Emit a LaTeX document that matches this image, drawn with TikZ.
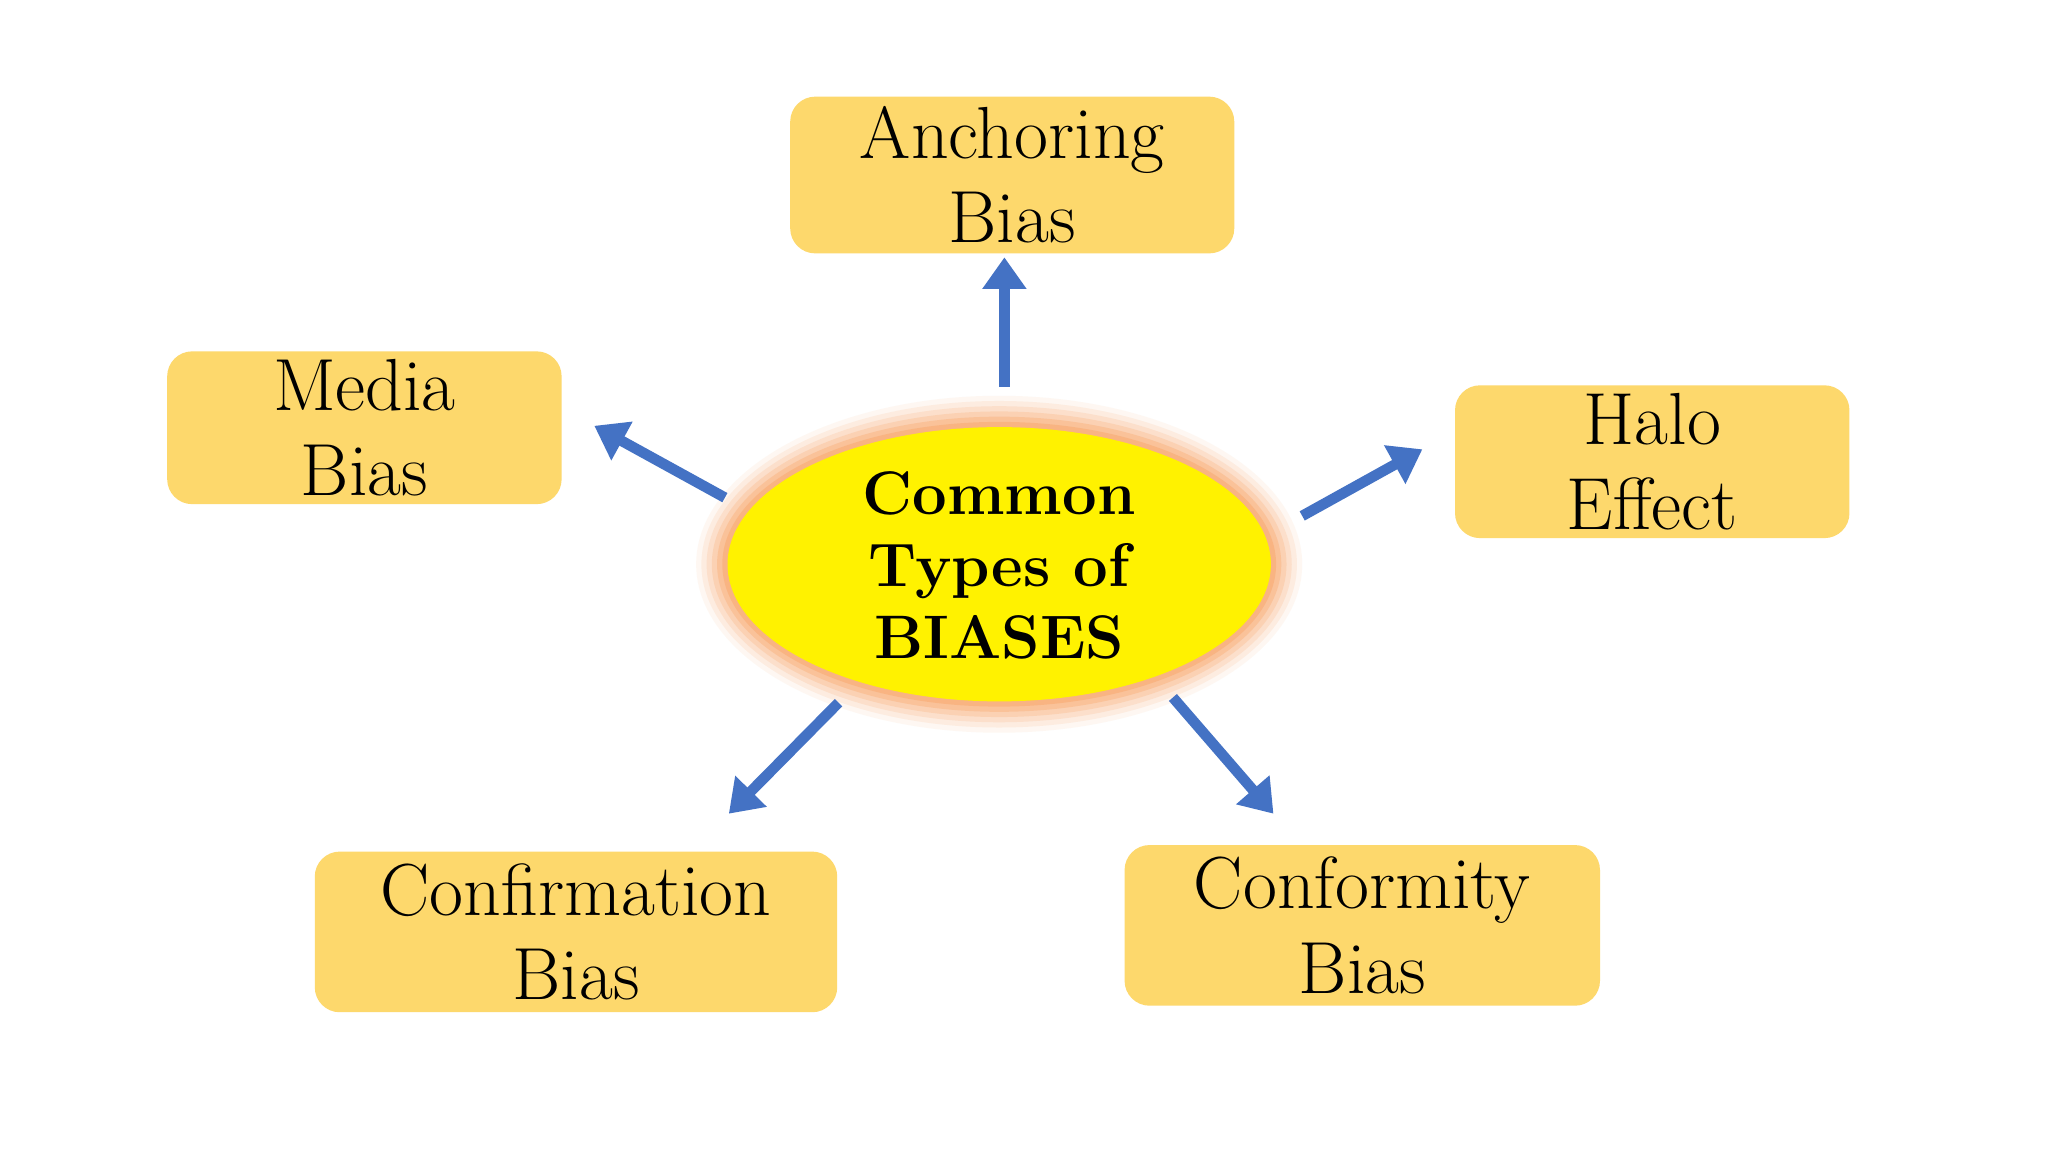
\documentclass[tikz,border=0pt]{standalone}
\usetikzlibrary{arrows.meta,shapes.geometric}
\definecolor{boxfill}{HTML}{FDD86C}
\definecolor{arrowblue}{HTML}{4472C4}
\definecolor{glow}{HTML}{F8A060}
\begin{document}
\begin{tikzpicture}[x=0.013061cm,y=-0.013061cm,
  biasbox/.style={draw=none,fill=boxfill,rounded corners=0.25cm,align=center,font=\fontsize{21}{24}\selectfont,inner sep=0pt},
  arr/.style={draw=arrowblue,line width=3pt,-{Triangle[length=9pt,width=12pt]}}]
\fill[white] (0,0) rectangle (1568,882);
\path[use as bounding box] (0,0) rectangle (1568,882);
\node[biasbox,minimum width=340*0.013061cm,minimum height=120*0.013061cm] (anch) at (775,134) {Anchoring\\Bias};
\node[biasbox,minimum width=302*0.013061cm,minimum height=117*0.013061cm] (media) at (279,327.5) {Media\\Bias};
\node[biasbox,minimum width=302*0.013061cm,minimum height=117*0.013061cm] (halo) at (1265,353.5) {Halo\\Effect};
\node[biasbox,minimum width=400*0.013061cm,minimum height=123*0.013061cm] (conf) at (441,713.5) {Confirmation\\Bias};
\node[biasbox,minimum width=364*0.013061cm,minimum height=123*0.013061cm] (confo) at (1043,708.5) {Conformity\\Bias};
\foreach \i/\op in {24/0.08,20/0.12,16/0.16,12/0.22,8/0.3,4/0.4}{
  \fill[glow,opacity=\op] (765,432) ellipse [x radius=208+\i, y radius=105+\i];}
\fill[yellow] (765,432) ellipse [x radius=208, y radius=105];
\node[align=center,font=\bfseries\fontsize{17.5}{20.5}\selectfont] (center) at (765,433) {Common\\Types of\\BIASES};
\coordinate (a1) at (769,296); \coordinate (a2) at (769,197);
\coordinate (m1) at (555,381); \coordinate (m2) at (455,326);
\coordinate (h1) at (997,395); \coordinate (h2) at (1089,344);
\coordinate (c1) at (642,538); \coordinate (c2) at (558,623);
\coordinate (d1) at (898,534); \coordinate (d2) at (975,623);
\draw[arr] (a1) -- (a2);
\draw[arr] (m1) -- (m2);
\draw[arr] (h1) -- (h2);
\draw[arr] (c1) -- (c2);
\draw[arr] (d1) -- (d2);
\end{tikzpicture}
\end{document}
